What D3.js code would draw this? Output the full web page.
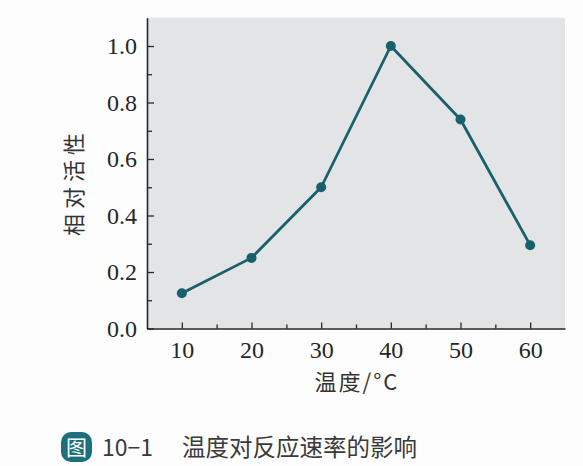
<!DOCTYPE html>
<html><head><meta charset="utf-8">
<script src="https://cdn.jsdelivr.net/npm/d3@7"></script>
<style>body{margin:0;background:#fdfdfd;} svg{display:block;}</style>
</head><body>
<script>
const temperatures = [10, 20, 30, 40, 50, 60];
const activity = [0.125, 0.25, 0.5, 1.0, 0.74, 0.295];
const xTicks = [10, 20, 30, 40, 50, 60];
const xMinorTicks = [15, 25, 35, 45, 55];
const yTicks = [0.0, 0.2, 0.4, 0.6, 0.8, 1.0];
const yMinorTicks = [0.1, 0.3, 0.5, 0.7, 0.9];
const xTitle = "温度/°C";
const yTitle = "相对活性";
const captionNum = "10−1";
const captionText = "温度对反应速率的影响";

const W = 583, H = 466;
const svg = d3.select("body").append("svg").attr("width", W).attr("height", H);
const x = d3.scaleLinear().domain([5, 65]).range([147, 565]);
const y = d3.scaleLinear().domain([0, 1.1]).range([328.5, 17.75]);

svg.append("rect").attr("x", x(5)).attr("y", y(1.1))
  .attr("width", x(65) - x(5)).attr("height", y(0) - y(1.1)).attr("fill", "#e3e4e6");

const serif = "'Liberation Serif','Times New Roman',serif";
const cjk = "'Noto Sans CJK SC','Noto Sans',sans-serif";
const axisCol = "#262626";

// x axis
const xa = svg.append("g").attr("transform", `translate(0,${y(0)})`)
  .call(d3.axisBottom(x).tickValues(xTicks).tickSizeInner(-6).tickSizeOuter(0).tickPadding(12).tickFormat(d3.format("d")));
xa.select(".domain").attr("stroke", axisCol).attr("stroke-width", 1.6);
xa.selectAll(".tick line").attr("stroke", axisCol).attr("stroke-width", 1.3);
xa.selectAll("text").attr("font-family", serif).attr("font-size", 24).attr("fill", "#262626");
const xm = svg.append("g").attr("transform", `translate(0,${y(0)})`)
  .call(d3.axisBottom(x).tickValues(xMinorTicks).tickSizeInner(-4).tickSizeOuter(0).tickFormat(""));
xm.select(".domain").remove();
xm.selectAll(".tick line").attr("stroke", axisCol).attr("stroke-width", 1.3);

// y axis
const ya = svg.append("g").attr("transform", `translate(${x(5)},0)`)
  .call(d3.axisLeft(y).tickValues(yTicks).tickSizeInner(-7).tickSizeOuter(0).tickPadding(10).tickFormat(d3.format(".1f")));
ya.select(".domain").attr("stroke", axisCol).attr("stroke-width", 1.6);
ya.selectAll(".tick line").attr("stroke", axisCol).attr("stroke-width", 1.3);
ya.selectAll("text").attr("font-family", serif).attr("font-size", 24).attr("fill", "#262626");
const ym = svg.append("g").attr("transform", `translate(${x(5)},0)`)
  .call(d3.axisLeft(y).tickValues(yMinorTicks).tickSizeInner(-5).tickSizeOuter(0).tickFormat(""));
ym.select(".domain").remove();
ym.selectAll(".tick line").attr("stroke", axisCol).attr("stroke-width", 1.3);

// data line
const data = temperatures.map((t, i) => ({t, v: activity[i]}));
const teal = "#17606c";
svg.append("path").datum(data)
  .attr("d", d3.line().x(d => x(d.t)).y(d => y(d.v)))
  .attr("fill", "none").attr("stroke", teal).attr("stroke-width", 2.8).attr("stroke-linejoin", "round");
svg.selectAll("circle.pt").data(data).enter().append("circle")
  .attr("class", "pt").attr("cx", d => x(d.t)).attr("cy", d => y(d.v)).attr("r", 5).attr("fill", teal);

// titles
svg.append("text").attr("x", 357).attr("y", 390).attr("text-anchor", "middle")
  .attr("font-family", cjk).attr("font-size", 22).attr("fill", "#333").attr("letter-spacing", 2)
  .text(xTitle);
svg.append("text").attr("transform", "translate(82,182) rotate(-90)").attr("text-anchor", "middle")
  .attr("font-family", cjk).attr("font-size", 22).attr("fill", "#333").attr("letter-spacing", 5)
  .text(yTitle);

// caption
svg.append("rect").attr("x", 61).attr("y", 432).attr("width", 31).attr("height", 30).attr("rx", 10)
  .attr("fill", "#1d6f7d");
svg.append("text").attr("x", 76.5).attr("y", 455).attr("text-anchor", "middle")
  .attr("font-family", cjk).attr("font-size", 21).attr("fill", "#ffffff").text("图");
svg.append("text").attr("x", 102).attr("y", 455.5)
  .attr("font-family", cjk).attr("font-size", 23).attr("fill", "#3a3a3a").text(captionNum);
svg.append("text").attr("x", 182).attr("y", 455.5)
  .attr("font-family", cjk).attr("font-size", 23.5).attr("fill", "#3a3a3a").text(captionText);
</script>
</body></html>
